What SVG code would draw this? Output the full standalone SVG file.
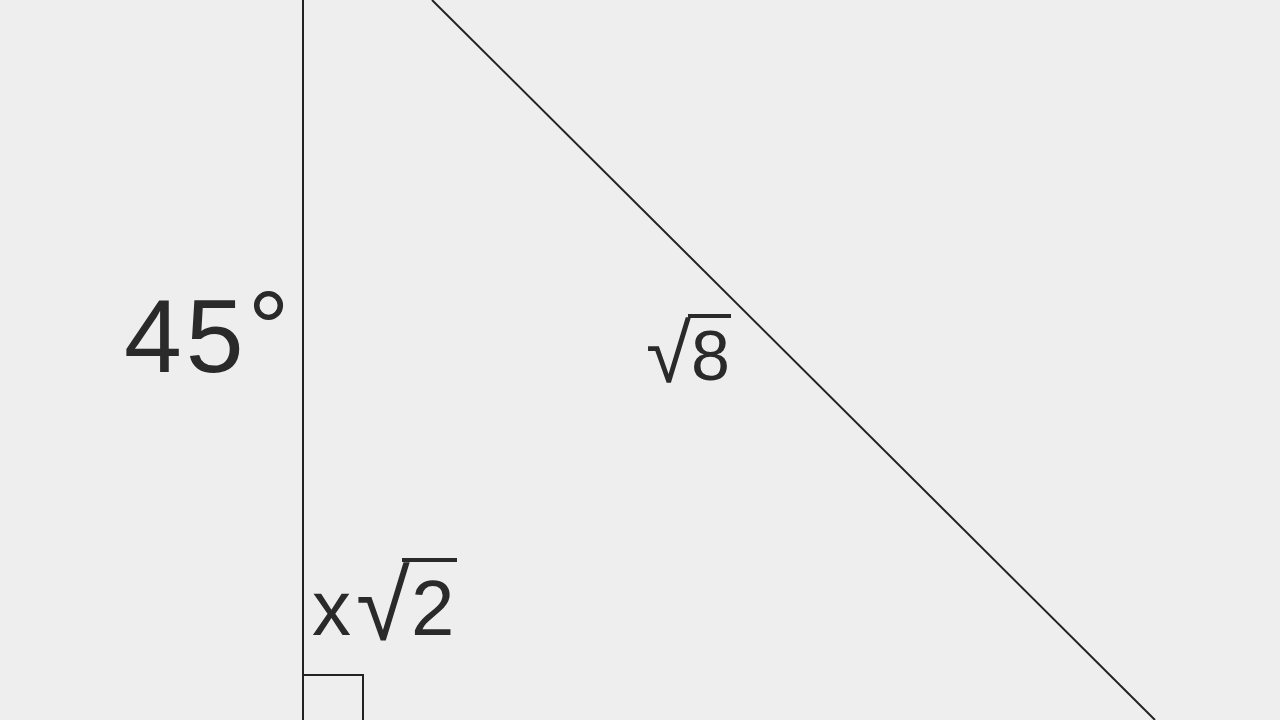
<svg xmlns="http://www.w3.org/2000/svg" width="1280" height="720" viewBox="0 0 1280 720">
<style>
.ln{stroke:#222;stroke-width:2;fill:none}
.t{font-family:"Liberation Sans","Arial",sans-serif;fill:#2a2a2a}
.v{stroke:#2a2a2a;stroke-width:4;fill:none}
</style>
<rect width="1280" height="720" fill="#eeeeee"/>
<g id="triangle">
<line class="ln" x1="303" y1="0" x2="303" y2="720"/>
<line class="ln" x1="432" y1="0" x2="1155" y2="720"/>
<polyline class="ln" points="303,675 363,675 363,720"/>
</g>
<g id="label-angle">
<text class="t" x="124" y="372" font-size="104" letter-spacing="4">45<tspan dx="0" dy="-8">°</tspan></text>
</g>
<g id="label-hyp">
<text class="t" x="646" y="382" font-size="82">√</text>
<text class="t" x="691" y="380" font-size="70">8</text>
<line class="v" x1="688" y1="316" x2="731" y2="316"/>
</g>
<g id="label-leg">
<text class="t" x="312" y="635" font-size="78">x</text>
<text class="t" x="356" y="640" font-size="98">√</text>
<text class="t" x="411" y="635" font-size="78">2</text>
<line class="v" x1="402" y1="560" x2="457" y2="560"/>
</g>
</svg>
